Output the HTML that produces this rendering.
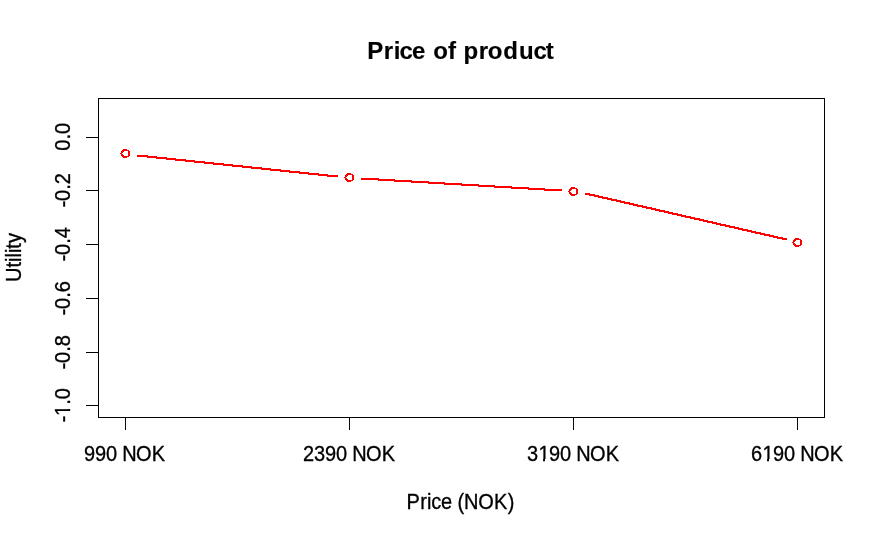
<!DOCTYPE html>
<html><head><meta charset="utf-8"><title>Price of product</title>
<style>
html,body{margin:0;padding:0;background:#fff;}
body{width:875px;height:540px;overflow:hidden;}
svg{display:block;}
text{font-family:"Liberation Sans",Arial,sans-serif;fill:#000;stroke:#000;stroke-width:0.3px;}
.t{stroke-width:0.15px;}
</style></head><body>
<svg width="875" height="540" viewBox="0 0 875 540">
<rect x="0" y="0" width="875" height="540" fill="#fff"/>
<g shape-rendering="crispEdges" stroke="#000" stroke-width="1" fill="none">
<rect x="98.5" y="98.5" width="726" height="319"/>
<path d="M125.5 418V430M349.5 418V430M573.5 418V430M797.5 418V430"/>
<path d="M86 137.5H98M86 190.5H98M86 244.5H98M86 298.5H98M86 352.5H98M86 405.5H98"/>
</g>
<path shape-rendering="crispEdges" fill="#f00" d="M123 149h4v1h-4zM122 150h7v1h-7zM121 151h3v1h-3zM128 151h2v1h-2zM121 152h2v1h-2zM128 152h2v1h-2zM120 153h2v1h-2zM128 153h2v1h-2zM121 154h2v1h-2zM128 154h2v1h-2zM121 155h3v1h-3zM128 155h2v1h-2zM137 155h11v1h-11zM122 156h7v1h-7zM137 156h20v1h-20zM123 157h4v1h-4zM147 157h20v1h-20zM156 158h20v1h-20zM166 159h20v1h-20zM175 160h20v1h-20zM185 161h20v1h-20zM194 162h20v1h-20zM204 163h20v1h-20zM213 164h20v1h-20zM223 165h20v1h-20zM232 166h20v1h-20zM242 167h20v1h-20zM251 168h20v1h-20zM261 169h20v1h-20zM270 170h20v1h-20zM280 171h20v1h-20zM289 172h20v1h-20zM299 173h20v1h-20zM347 173h4v1h-4zM308 174h20v1h-20zM346 174h7v1h-7zM318 175h20v1h-20zM345 175h3v1h-3zM352 175h2v1h-2zM327 176h11v1h-11zM345 176h2v1h-2zM352 176h2v1h-2zM344 177h2v1h-2zM352 177h2v1h-2zM345 178h2v1h-2zM352 178h2v1h-2zM361 178h18v1h-18zM345 179h3v1h-3zM352 179h2v1h-2zM361 179h34v1h-34zM346 180h7v1h-7zM378 180h34v1h-34zM347 181h4v1h-4zM394 181h35v1h-35zM411 182h34v1h-34zM428 183h34v1h-34zM444 184h35v1h-35zM461 185h34v1h-34zM478 186h34v1h-34zM494 187h35v1h-35zM571 187h4v1h-4zM511 188h34v1h-34zM570 188h7v1h-7zM528 189h34v1h-34zM569 189h3v1h-3zM576 189h2v1h-2zM544 190h18v1h-18zM569 190h2v1h-2zM576 190h2v1h-2zM568 191h2v1h-2zM576 191h2v1h-2zM569 192h2v1h-2zM576 192h2v1h-2zM569 193h3v1h-3zM576 193h2v1h-2zM585 193h5v1h-5zM570 194h7v1h-7zM585 194h10v1h-10zM571 195h4v1h-4zM589 195h10v1h-10zM594 196h9v1h-9zM598 197h10v1h-10zM602 198h10v1h-10zM607 199h10v1h-10zM611 200h10v1h-10zM616 201h9v1h-9zM620 202h10v1h-10zM624 203h10v1h-10zM629 204h9v1h-9zM633 205h10v1h-10zM637 206h10v1h-10zM642 207h10v1h-10zM646 208h10v1h-10zM651 209h9v1h-9zM655 210h10v1h-10zM659 211h10v1h-10zM664 212h9v1h-9zM668 213h10v1h-10zM672 214h10v1h-10zM677 215h9v1h-9zM681 216h10v1h-10zM685 217h10v1h-10zM690 218h10v1h-10zM694 219h10v1h-10zM699 220h9v1h-9zM703 221h10v1h-10zM707 222h10v1h-10zM712 223h9v1h-9zM716 224h10v1h-10zM720 225h10v1h-10zM725 226h10v1h-10zM729 227h10v1h-10zM734 228h9v1h-9zM738 229h10v1h-10zM742 230h10v1h-10zM747 231h9v1h-9zM751 232h10v1h-10zM755 233h10v1h-10zM760 234h10v1h-10zM764 235h10v1h-10zM769 236h9v1h-9zM773 237h10v1h-10zM777 238h10v1h-10zM795 238h4v1h-4zM782 239h5v1h-5zM794 239h7v1h-7zM793 240h3v1h-3zM800 240h2v1h-2zM793 241h2v1h-2zM800 241h2v1h-2zM792 242h2v1h-2zM800 242h2v1h-2zM793 243h2v1h-2zM800 243h2v1h-2zM793 244h3v1h-3zM800 244h2v1h-2zM794 245h7v1h-7zM795 246h4v1h-4z"/>
<text class="t" x="367.2 383.8 393.8 399.5 412.1 425.5 433.2 448.1 456.2 463.5 478.7 487.8 503.3 519 533.5 545.7" y="59" font-size="24" font-weight="bold">Price of product</text>
<g font-size="20">
<g transform="translate(0,461) scale(1,1.08)"><text x="84 95 106 117 122.15 136.1 151.75" y="0">990 NOK</text></g>
<g transform="translate(0,461) scale(1,1.08)"><text x="303 314 325 336 347 352.15 366.1 381.75" y="0">2390 NOK</text></g>
<g transform="translate(0,461) scale(1,1.08)"><text x="527 538.4 549 560 571 576.15 590.1 605.75" y="0">3190 NOK</text></g>
<g transform="translate(0,461) scale(1,1.08)"><text x="751 762.4 773 784 795 800.15 814.1 829.75" y="0">6190 NOK</text></g>
<g transform="translate(0,509) scale(1,1.08)"><text x="406.4 420.2 427.1 431.2 440.9 452 457.6 464 478.2 494 507.8" y="0">Price (NOK)</text></g>
<g transform="translate(70,136.8) rotate(-90) scale(1,1.08)"><text text-anchor="middle">0.0</text></g>
<g transform="translate(70,190.4) rotate(-90) scale(1,1.08)"><text text-anchor="middle">-0.2</text></g>
<g transform="translate(70,244.4) rotate(-90) scale(1,1.08)"><text text-anchor="middle">-0.4</text></g>
<g transform="translate(70,298.4) rotate(-90) scale(1,1.08)"><text text-anchor="middle">-0.6</text></g>
<g transform="translate(70,352.4) rotate(-90) scale(1,1.08)"><text text-anchor="middle">-0.8</text></g>
<g transform="translate(70,405.4) rotate(-90) scale(1,1.08)"><text text-anchor="middle">-1.0</text></g>
<g transform="translate(21,257.5) rotate(-90) scale(1,1.08)"><text text-anchor="middle">Utility</text></g>
</g>
<path shape-rendering="crispEdges" fill="#fff" d="M539 459h4v3h-4zM545 459h4v3h-4zM763 459h4v3h-4zM769 459h4v3h-4zM68 411h3v5h-3zM68 405h3v4h-3z"/>
</svg>
</body></html>
